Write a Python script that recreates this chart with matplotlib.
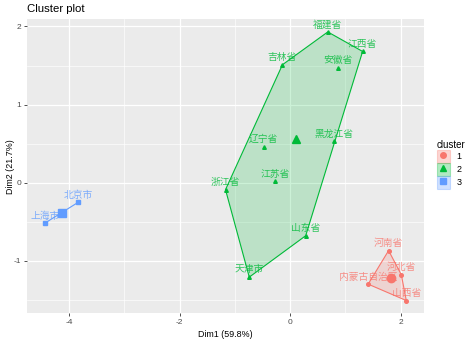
import numpy as np
import matplotlib
matplotlib.use('Agg')
import matplotlib.pyplot as plt
from matplotlib.patches import Patch, Polygon
from matplotlib.lines import Line2D

plt.rcParams['font.family'] = ['Liberation Sans', 'DejaVu Sans']
plt.rcParams['axes.unicode_minus'] = False

# Province coordinates on the first two principal dimensions
names_1 = ['河南省', '河北省', '内蒙古自治区', '山西省']
dim1_1 = [1.78, 2.01, 1.41, 2.10]
dim2_1 = [-0.87, -1.18, -1.30, -1.51]

names_2 = ['福建省', '江西省', '吉林省', '安徽省', '辽宁省', '黑龙江省',
           '浙江省', '江苏省', '山东省', '天津市']
dim1_2 = [0.68, 1.31, -0.14, 0.86, -0.48, 0.80, -1.17, -0.27, 0.28, -0.74]
dim2_2 = [1.93, 1.68, 1.51, 1.47, 0.46, 0.53, -0.09, 0.02, -0.68, -1.21]

names_3 = ['北京市', '上海市']
dim1_3 = [-3.83, -4.44]
dim2_3 = [-0.25, -0.52]

cluster_ids = ['1', '2', '3']
colors = ['#F8766D', '#00BA38', '#619CFF']
markers = ['o', '^', 's']


def convex_hull(pts):
    pts = sorted(set(pts))
    if len(pts) < 3:
        return pts

    def cross(o, a, b):
        return (a[0] - o[0]) * (b[1] - o[1]) - (a[1] - o[1]) * (b[0] - o[0])

    lower = []
    for p in pts:
        while len(lower) >= 2 and cross(lower[-2], lower[-1], p) <= 0:
            lower.pop()
        lower.append(p)
    upper = []
    for p in reversed(pts):
        while len(upper) >= 2 and cross(upper[-2], upper[-1], p) <= 0:
            upper.pop()
        upper.append(p)
    return lower[:-1] + upper[:-1]


fig = plt.figure(figsize=(4.74, 3.41), dpi=100)
ax = fig.add_axes([0.057, 0.082, 0.8375, 0.861])
ax.set_facecolor('#EBEBEB')

groups = [(names_1, dim1_1, dim2_1), (names_2, dim1_2, dim2_2), (names_3, dim1_3, dim2_3)]

for (names, xs, ys), col, mk in zip(groups, colors, markers):
    hull = convex_hull(list(zip(xs, ys)))
    ax.add_patch(Polygon(hull, closed=True, facecolor=col, alpha=0.2, edgecolor='none', zorder=2))
    ax.add_patch(Polygon(hull, closed=True, facecolor='none', edgecolor=col, lw=0.8, zorder=3))
    ax.plot(xs, ys, linestyle='none', marker=mk, ms=2.6, color=col, zorder=4)
    # cluster centre = mean of its members
    ax.plot(np.mean(xs), np.mean(ys), linestyle='none', marker=mk, ms=6, color=col, zorder=5)
    for n, x, y in zip(names, xs, ys):
        ax.annotate(n, (x, y), xytext=(0, 5.5), textcoords='offset points',
                    ha='center', va='center', fontsize=7, color=col, alpha=0.8,
                    family=['Noto Sans CJK SC', 'DejaVu Sans'], zorder=6)

ax.set_xlim(-4.76, 2.42)
ax.set_ylim(-1.67, 2.09)
ax.set_xticks([-4, -2, 0, 2])
ax.set_yticks([-1, 0, 1, 2])
ax.set_xticks([-3, -1, 1], minor=True)
ax.set_yticks([-1.5, -0.5, 0.5, 1.5], minor=True)
ax.grid(True, which='major', color='white', lw=0.9)
ax.grid(True, which='minor', color='white', lw=0.45)
ax.set_axisbelow(True)
for s in ax.spines.values():
    s.set_visible(False)
ax.tick_params(which='major', length=2.5, width=0.6, color='#333333', labelsize=6,
               labelcolor='#4D4D4D', pad=1.5)
ax.tick_params(which='minor', length=0)

ax.set_xlabel('Dim1 (59.8%)', fontsize=6.4, labelpad=3)
ax.set_ylabel('Dim2 (21.7%)', fontsize=6.4)
ax.yaxis.set_label_coords(-0.030, 0.5)
ax.set_title('Cluster plot', fontsize=8.2, loc='left', pad=5)

handles = []
for col, mk in zip(colors, markers):
    handles.append((Patch(facecolor=col, edgecolor=col, alpha=0.3, lw=0.8),
                    Line2D([], [], linestyle='none', marker=mk, ms=4, color=col)))
leg = fig.legend(handles, cluster_ids, title='cluster', loc='upper left',
                 bbox_to_anchor=(0.912, 0.603), frameon=False, fontsize=6.5,
                 title_fontsize=7, handlelength=1.45, handleheight=1.85,
                 labelspacing=0.0, handletextpad=0.7, borderpad=0, alignment='left')

fig.savefig('out.png', dpi=100)
